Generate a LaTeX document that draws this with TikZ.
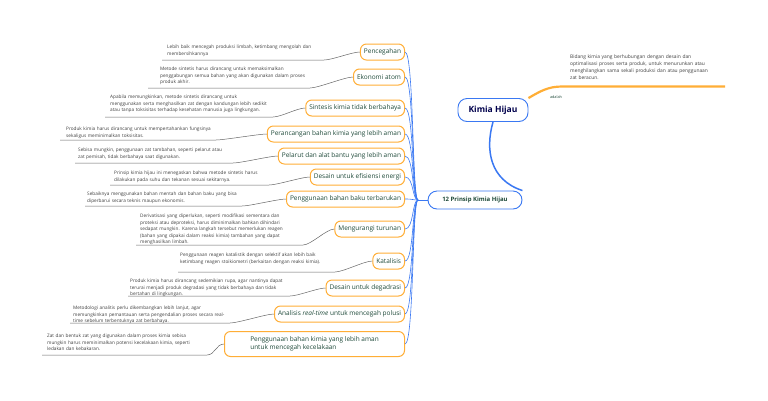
\documentclass[tikz,border=0pt]{standalone}
\usepackage{fontspec}
\setmainfont{Open Sans}
\definecolor{orC}{HTML}{FFAE36}
\definecolor{blC}{HTML}{3A78F2}
\definecolor{grT}{HTML}{1F4A3A}
\lefthyphenmin=64
\righthyphenmin=64
\begin{document}
\begin{tikzpicture}[x=1pt,y=-1pt,
  topic/.style={draw=orC,line width=1pt,rounded corners=6pt,fill=white,text=grT,font=\fontsize{6.5}{8.5}\selectfont,inner sep=3.5pt,minimum height=16pt,anchor=east},
  desc/.style={anchor=north west,align=left,font=\fontsize{4.7}{6.4}\selectfont,text=black!75,inner sep=0pt},
  uline/.style={draw=black!60,line width=0.5pt},
  blink/.style={draw=blC,line width=0.6pt},
  main/.style={draw=blC,line width=0.9pt,rounded corners=9pt,fill=white,inner sep=4pt}]
\useasboundingbox (0,0) rectangle (768,400);
\node[main,minimum width=70pt,minimum height=23pt,font=\fontsize{8.5}{10}\selectfont\bfseries,text=blue!30!black] (kh) at (493,110) {Kimia Hijau};
\node[main,minimum width=94pt,minimum height=18pt,font=\fontsize{6}{8}\selectfont\bfseries,text=grT] (pr) at (475,200) {12 Prinsip Kimia Hijau};
\draw[draw=blC,line width=1.5pt] (kh.south) .. controls (485,150) and (490,180) .. (pr.north east);
\node[desc,text width=143pt,font=\fontsize{4.9}{7}\selectfont] (def) at (570,55) {Bidang kimia yang berhubungan dengan desain dan optimalisasi proses serta produk, untuk menurunkan atau menghilangkan sama sekali produksi dan atau penggunaan zat beracun.};
\coordinate (d0) at (562,86.5);
\coordinate (d1) at (725,86.5);
\draw[orC,line width=2.2pt] (kh.north east) to[out=30,in=180] (d0) -- (d1);
\node[font=\fontsize{3.8}{5}\selectfont,text=grT] (ad) at (556,97) {adalah};
\coordinate (hub) at (418,200);
\draw[blink,line width=1pt] (pr.west) -- (hub);
\foreach \n/\y/\t in {
 t1/52/Pencegahan,
 t2/77/Ekonomi atom,
 t3/108/Sintesis kimia tidak berbahaya,
 t4/134/Perancangan bahan kimia yang lebih aman,
 t5/156/Pelarut dan alat bantu yang lebih aman,
 t6/177/Desain untuk efisiensi energi,
 t7/199/Penggunaan bahan baku terbarukan,
 t8/229/Mengurangi turunan,
 t9/261/Katalisis,
 t10/288/Desain untuk degadrasi,
 t11/314/{Analisis \emph{real-time} untuk mencegah polusi}}{
 \node[topic] (\n) at (405,\y) {\t};
 \draw[blink] (hub) .. controls (412,200) and (414,\y) .. (\n.east);
}
\node[topic,align=left,minimum height=25pt,minimum width=180pt] (t12) at (405,344) {Penggunaan bahan kimia yang lebih aman\\untuk mencegah kecelakaan};
\draw[blink] (hub) .. controls (412,200) and (414,344) .. (t12.east);
\foreach \n/\x/\y/\w/\u/\ux/\t in {
 t1/167/45/152/60/162/{Lebih baik mencegah produksi limbah, ketimbang mengolah dan membersihkannya},
 t2/160/67/145/88/148/{Metode sintetis harus dirancang untuk memaksimalkan penggabungan semua bahan yang akan digunakan dalam proses produk akhir.},
 t3/110/95/158/117/105/{Apabila memungkinkan, metode sintetis dirancang untuk menggunakan serta menghasilkan zat dengan kandungan lebih sedikit atau tanpa toksisitas terhadap kesehatan manusia juga lingkungan.},
 t4/66/127/145/140/60/{Produk kimia harus dirancang untuk mempertahankan fungsinya sekaligus meminimalkan toksisitas.},
 t5/78/148/150/163/75/{Sebisa mungkin, penggunaan zat tambahan, seperti pelarut atau zat pemisah, tidak berbahaya saat digunakan.},
 t6/114/171/150/185/110/{Prinsip kimia hijau ini menegaskan bahwa metode sintetis harus dilakukan pada suhu dan tekanan sesuai sekitarnya.},
 t7/87/192/150/206/85/{Sebaiknya menggunakan bahan mentah dan bahan baku yang bisa diperbarui secara teknis maupun ekonomis.},
 t8/140/214/158/245/136/{Derivatisasi yang diperlukan, seperti modifikasi sementara dan proteksi atau deproteksi, harus diminimalkan bahkan dihindari sedapat mungkin. Karena langkah tersebut memerlukan reagen (bahan yang dipakai dalam reaksi kimia) tambahan yang dapat menghasilkan limbah.},
 t9/180/253/150/272/178/{Penggunaan reagen katalistik dengan selektif akan lebih baik ketimbang reagen stoikiometri (berkaitan dengan reaksi kimia).},
 t10/130/279/155/296/128/{Produk kimia harus dirancang sedemikian rupa, agar nantinya dapat terurai menjadi produk degradasi yang tidak berbahaya dan tidak bertahan di lingkungan.},
 t11/73/306/152/323/70/{Metodologi analitis perlu dikembangkan lebih lanjut, agar memungkinkan pemantauan serta pengendalian proses secara real-time sebelum terbentuknya zat berbahaya.},
 t12/47/334/155/355/42/{Zat dan bentuk zat yang digunakan dalam proses kimia sebisa mungkin harus meminimalkan potensi kecelakaan kimia, seperti ledakan dan kebakaran.}}{
 \node[desc,text width=\w pt] (d\n) at (\x,\y) {\t};
 \coordinate (a\n) at (\ux,\u);
 \draw[uline] (a\n) -- ++(\w+\x-\ux+5,0) coordinate (b\n) .. controls +(8,0) and +(-8,0) .. (\n.west);
}
\end{tikzpicture}
\end{document}
